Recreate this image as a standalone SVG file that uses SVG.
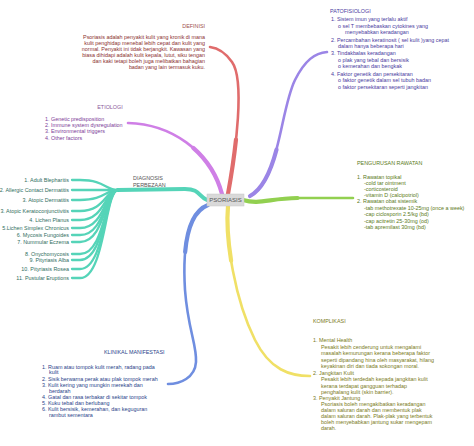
<svg xmlns="http://www.w3.org/2000/svg" width="474" height="446" viewBox="0 0 474 446">
<style>
text{font-family:"Liberation Sans",Arial,sans-serif;font-size:5.4px}
.br{fill:none;stroke-linecap:round;stroke-linejoin:round}
.th{stroke-width:4.2;stroke-dasharray:55 2000}
.red{stroke:#e06c6c}
.pur{stroke:#9b85e6}
.mag{stroke:#cf7fe6}
.teal{stroke:#55d4b8}
.grn{stroke:#92d050}
.yel{stroke:#f0e066}
.blu{stroke:#6f8ee0}
.tdef{fill:#8b3030;font-size:5.2px}
.tpat{fill:#4a3aa0}
.tet{fill:#7d3c98}
.tdia{fill:#2f6e60}
.tpen{fill:#5a7a1a}
.tkom{fill:#7a7a22}
.tkl{fill:#2a3f8a}
</style>
<defs>
<path id="pRed" d="M228 194 C236 150 245 80 232 62 C225 52 218 48 210 47"/>
<path id="pPur" d="M250 196 C280 180 280 110 295 80 C305 60 315 53 327 52"/>
<path id="pMag" d="M222 194 C210 150 170 124 128 123"/>
<path id="pGrn" d="M243 200 C260 205 270 198 300 198 L353 198"/>
<path id="pYel" d="M228 206 C225 240 235 300 255 340 C270 370 290 376 310 376"/>
<path id="pBlu" d="M208 205 C190 212 182 240 185 290 C188 330 197 345 196 362 C195 378 180 384 168 384"/>
</defs>
<rect width="474" height="446" fill="#fff"/>
<g id="connectors">
<use href="#pRed" class="br red" stroke-width="2.6"/>
<use href="#pRed" class="br red th"/>
<use href="#pPur" class="br pur" stroke-width="2.6"/>
<use href="#pPur" class="br pur th"/>
<use href="#pMag" class="br mag" stroke-width="2.6"/>
<use href="#pMag" class="br mag th"/>
<path class="br teal" stroke-width="4" d="M207 200 C198 196 200 189 185 189 L118 190"/>
<g class="br teal" stroke-width="2.3">
<path d="M118 190 C105 190 105 180 80 180 L72 180"/>
<path d="M118 190 C105 190 105 190 80 190 L72 190"/>
<path d="M118 190 C105 190 105 200 80 200 L72 200"/>
<path d="M118 190 C105 190 105 211 80 211 L72 211"/>
<path d="M118 190 C105 190 105 220 80 220 L72 220"/>
<path d="M118 190 C105 190 105 228 80 228 L72 228"/>
<path d="M118 190 C105 190 105 235 80 235 L72 235"/>
<path d="M118 190 C105 190 105 242 80 242 L72 242"/>
<path d="M118 190 C105 190 105 254 80 254 L72 254"/>
<path d="M118 190 C105 190 105 260 80 260 L72 260"/>
<path d="M118 190 C105 190 105 269 80 269 L72 269"/>
<path d="M118 190 C105 190 105 278 80 278 L72 278"/>
</g>
<use href="#pGrn" class="br grn" stroke-width="2.6"/>
<use href="#pGrn" class="br grn th"/>
<use href="#pYel" class="br yel" stroke-width="2.6"/>
<use href="#pYel" class="br yel th"/>
<use href="#pBlu" class="br blu" stroke-width="2.6"/>
<use href="#pBlu" class="br blu th"/>
</g>
<g id="psoriasis">
<rect x="207" y="194" width="37" height="12" fill="#d9d9d9" stroke="#c8c8c8" stroke-width="0.5"/>
<text x="225.5" y="202" text-anchor="middle" fill="#555" style="font-size:6px">PSORIASIS</text>
</g>
<g id="definisi" class="tdef" text-anchor="end">
<text x="205" y="28" style="fill:#a05050">DEFINISI</text>
<text x="205" y="39">Psoriasis adalah penyakit kulit yang kronik di mana</text>
<text x="205" y="45">kulit penghidap menebal lebih cepat dan kulit yang</text>
<text x="205" y="51">normal. Penyakit ini tidak berjangkit. Kawasan yang</text>
<text x="205" y="57">biasa dihidapi adalah kulit kepala, lutut, siku tengan</text>
<text x="205" y="63">dan kaki tetapi boleh juga melibatkan bahagian</text>
<text x="205" y="69">badan yang lain termasuk kuku.</text>
</g>
<g id="patofisiologi" class="tpat">
<text x="330" y="13">PATOFISIOLOGI</text>
<text x="331" y="21">1.  Sistem imun yang terlalu aktif</text>
<text x="338" y="28">o   sel T membebaskan cytokines yang</text>
<text x="345" y="34">menyebabkan keradangan</text>
<text x="331" y="42">2.  Percambahan keratinosit ( sel kulit )yang cepat</text>
<text x="338" y="48">dalam hanya beberapa hari</text>
<text x="331" y="55">3.  Tindakbalas keradangan</text>
<text x="338" y="62">o   plak yang tebal dan bersisik</text>
<text x="338" y="68">o   kemerahan dan bengkak</text>
<text x="331" y="76">4.  Faktor genetik dan persekitaran</text>
<text x="338" y="82">o   faktor genetik dalam sel tubuh badan</text>
<text x="338" y="89">o   faktor persekitaran seperti jangkitan</text>
</g>
<g id="etiologi" class="tet">
<text x="110" y="109" text-anchor="middle" style="fill:#8a5a9a">ETIOLOGI</text>
<text x="45" y="121">1. Genetic predisposition</text>
<text x="45" y="127">2. Immune system dysregulation</text>
<text x="45" y="133">3. Environmental triggers</text>
<text x="45" y="140">4. Other factors</text>
</g>
<g id="diagnosis" class="tdia" text-anchor="end">
<text x="133" y="180" text-anchor="start" style="fill:#555">DIAGNOSIS</text>
<text x="133" y="187" text-anchor="start" style="fill:#555">PERBEZAAN</text>
<text x="69" y="181.5">1. Adult Blepharitis</text>
<text x="69" y="191.5">2. Allergic Contact Dermatitis</text>
<text x="69" y="201.5">3. Atopic Dermatitis</text>
<text x="69" y="212.5">3. Atopic Keratoconjunctivitis</text>
<text x="69" y="221.5">4. Lichen Planus</text>
<text x="69" y="229.5">5.Lichen Simplex Chronicus</text>
<text x="69" y="236.5">6. Mycosis Fungoides</text>
<text x="69" y="243.5">7. Nummular Eczema</text>
<text x="69" y="255.5">8. Onychomycosis</text>
<text x="69" y="261.5">9. Pityriasis Alba</text>
<text x="69" y="270.5">10. Pityriasis Rosea</text>
<text x="69" y="279.5">11. Pustular Eruptions</text>
</g>
<g id="pengurusan" class="tpen">
<text x="357" y="165">PENGURUSAN RAWATAN</text>
<text x="357" y="179">1.  Rawatan topikal</text>
<text x="364" y="185">-cold tar ointment</text>
<text x="364" y="191">-corticosteroid</text>
<text x="364" y="197">-vitamin D (calcipotriol)</text>
<text x="357" y="203">2.  Rawatan obat sistemik</text>
<text x="364" y="209.5">-tab methotrexate 10-25mg (once a week)</text>
<text x="364" y="216">-cap ciclosporin 2.5/kg (bd)</text>
<text x="364" y="222.5">-cap acitretin 25-30mg (od)</text>
<text x="364" y="229">-tab apremilast 30mg (bd)</text>
</g>
<g id="komplikasi" class="tkom">
<text x="313" y="323">KOMPLIKASI</text>
<text x="313" y="342">1.  Mental Health</text>
<text x="321" y="348.5">Pesakit lebih cenderung untuk mengalami</text>
<text x="321" y="355">masalah kemurungan kerana beberapa faktor</text>
<text x="321" y="361.5">seperti dipandang hina oleh masyarakat, hilang</text>
<text x="321" y="368">keyakinan diri dan tiada sokongan moral.</text>
<text x="313" y="374.5">2.  Jangkitan Kulit</text>
<text x="321" y="381">Pesakit lebih terdedah kepada jangkitan kulit</text>
<text x="321" y="387.5">kerana terdapat gangguan terhadap</text>
<text x="321" y="394">penghalang kulit (skin barrier).</text>
<text x="313" y="400">3.  Penyakit Jantung</text>
<text x="321" y="406">Psoriasis boleh mengakibatkan keradangan</text>
<text x="321" y="412">dalam saluran darah dan membentuk plak</text>
<text x="321" y="418">dalam saluran darah. Plak-plak yang terbentuk</text>
<text x="321" y="424">boleh menyebabkan jantung sukar mengepam</text>
<text x="321" y="430">darah.</text>
</g>
<g id="klinikal" class="tkl">
<text x="104" y="354">KLINIKAL MANIFESTASI</text>
<text x="42" y="368.5">1.  Ruam atau tompok kulit merah, radang pada</text>
<text x="49" y="374">kulit</text>
<text x="42" y="380.5">2.  Sisik berwarna perak atau plak tompok merah</text>
<text x="42" y="386.5">3.  Kulit kering yang mungkin merekah dan</text>
<text x="49" y="392.5">berdarah</text>
<text x="42" y="398.5">4.  Gatal dan rasa terbakar di sekitar tompok</text>
<text x="42" y="404.5">5.  Kuku tebal dan berlubang</text>
<text x="42" y="411">6.  Kulit bersisik, kemerahan, dan keguguran</text>
<text x="49" y="417">rambut sementara</text>
</g>
</svg>
